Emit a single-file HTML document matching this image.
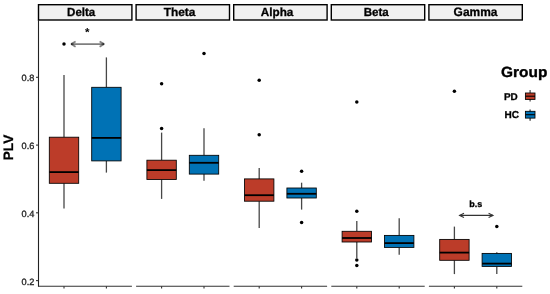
<!DOCTYPE html><html><head><meta charset="utf-8"><style>html,body{margin:0;padding:0;background:#fff;overflow:hidden;width:550px;height:294px;}svg{display:block;}text{font-family:"Liberation Sans",Arial,sans-serif;text-rendering:geometricPrecision;}</style></head><body>
<svg width="550" height="294" viewBox="0 0 550 294">
<rect width="550" height="294" fill="#fff"/>
<rect x="38.5" y="4.7" width="93.4" height="15.3" fill="#F1F1F1" stroke="#000" stroke-width="1.4"/>
<text x="81.2" y="16.4" text-anchor="middle" font-size="11.8" font-weight="bold" stroke="#000" stroke-width="0.3" textLength="28.2" lengthAdjust="spacingAndGlyphs">Delta</text>
<line x1="38.5" y1="286.2" x2="131.9" y2="286.2" stroke="#333" stroke-width="1.1"/>
<line x1="64" y1="286.2" x2="64" y2="288.6" stroke="#333" stroke-width="1.1"/>
<line x1="106.4" y1="286.2" x2="106.4" y2="288.6" stroke="#333" stroke-width="1.1"/>
<line x1="64" y1="74.9" x2="64" y2="137.2" stroke="#474747" stroke-width="1.3"/>
<line x1="64" y1="183.3" x2="64" y2="208.6" stroke="#474747" stroke-width="1.3"/>
<rect x="49.3" y="137.2" width="29.4" height="46.1" fill="#BC3C29" stroke="#000" stroke-width="0.85"/>
<line x1="49.3" y1="172.1" x2="78.7" y2="172.1" stroke="#000" stroke-width="1.8"/>
<circle cx="64" cy="43.9" r="1.75" fill="#000"/>
<line x1="106.4" y1="57.4" x2="106.4" y2="87.3" stroke="#474747" stroke-width="1.3"/>
<line x1="106.4" y1="160.9" x2="106.4" y2="172.6" stroke="#474747" stroke-width="1.3"/>
<rect x="91.7" y="87.3" width="29.4" height="73.6" fill="#0072B5" stroke="#000" stroke-width="0.85"/>
<line x1="91.7" y1="137.9" x2="121.1" y2="137.9" stroke="#000" stroke-width="1.8"/>
<rect x="136.1" y="4.7" width="93.4" height="15.3" fill="#F1F1F1" stroke="#000" stroke-width="1.4"/>
<text x="179.55" y="16.4" text-anchor="middle" font-size="11.8" font-weight="bold" stroke="#000" stroke-width="0.3" textLength="31.7" lengthAdjust="spacingAndGlyphs">Theta</text>
<line x1="136.1" y1="286.2" x2="229.5" y2="286.2" stroke="#333" stroke-width="1.1"/>
<line x1="161.6" y1="286.2" x2="161.6" y2="288.6" stroke="#333" stroke-width="1.1"/>
<line x1="204" y1="286.2" x2="204" y2="288.6" stroke="#333" stroke-width="1.1"/>
<line x1="161.6" y1="132.6" x2="161.6" y2="160.2" stroke="#474747" stroke-width="1.3"/>
<line x1="161.6" y1="179.5" x2="161.6" y2="198.9" stroke="#474747" stroke-width="1.3"/>
<rect x="146.9" y="160.2" width="29.4" height="19.3" fill="#BC3C29" stroke="#000" stroke-width="0.85"/>
<line x1="146.9" y1="170.1" x2="176.3" y2="170.1" stroke="#000" stroke-width="1.8"/>
<circle cx="161.6" cy="83.8" r="1.75" fill="#000"/>
<circle cx="161.6" cy="128.4" r="1.75" fill="#000"/>
<line x1="204" y1="128.3" x2="204" y2="155.3" stroke="#474747" stroke-width="1.3"/>
<line x1="204" y1="174.1" x2="204" y2="180.8" stroke="#474747" stroke-width="1.3"/>
<rect x="189.3" y="155.3" width="29.4" height="18.8" fill="#0072B5" stroke="#000" stroke-width="0.85"/>
<line x1="189.3" y1="162.8" x2="218.7" y2="162.8" stroke="#000" stroke-width="1.8"/>
<circle cx="204" cy="53.5" r="1.75" fill="#000"/>
<rect x="233.7" y="4.7" width="93.4" height="15.3" fill="#F1F1F1" stroke="#000" stroke-width="1.4"/>
<text x="277.1" y="16.3" text-anchor="middle" font-size="11.8" font-weight="bold" stroke="#000" stroke-width="0.3" textLength="32.6" lengthAdjust="spacingAndGlyphs">Alpha</text>
<line x1="233.7" y1="286.2" x2="327.1" y2="286.2" stroke="#333" stroke-width="1.1"/>
<line x1="259.2" y1="286.2" x2="259.2" y2="288.6" stroke="#333" stroke-width="1.1"/>
<line x1="301.6" y1="286.2" x2="301.6" y2="288.6" stroke="#333" stroke-width="1.1"/>
<line x1="259.2" y1="168" x2="259.2" y2="178.9" stroke="#474747" stroke-width="1.3"/>
<line x1="259.2" y1="201.2" x2="259.2" y2="227.9" stroke="#474747" stroke-width="1.3"/>
<rect x="244.5" y="178.9" width="29.4" height="22.3" fill="#BC3C29" stroke="#000" stroke-width="0.85"/>
<line x1="244.5" y1="195.2" x2="273.9" y2="195.2" stroke="#000" stroke-width="1.8"/>
<circle cx="259.2" cy="80.2" r="1.75" fill="#000"/>
<circle cx="259.2" cy="134.8" r="1.75" fill="#000"/>
<line x1="301.6" y1="182.7" x2="301.6" y2="188" stroke="#474747" stroke-width="1.3"/>
<line x1="301.6" y1="198" x2="301.6" y2="209.6" stroke="#474747" stroke-width="1.3"/>
<rect x="286.9" y="188" width="29.4" height="10" fill="#0072B5" stroke="#000" stroke-width="0.85"/>
<line x1="286.9" y1="193.8" x2="316.3" y2="193.8" stroke="#000" stroke-width="1.8"/>
<circle cx="301.6" cy="171.2" r="1.75" fill="#000"/>
<circle cx="301.6" cy="222.6" r="1.75" fill="#000"/>
<rect x="331.3" y="4.7" width="93.4" height="15.3" fill="#F1F1F1" stroke="#000" stroke-width="1.4"/>
<text x="376.2" y="16.3" text-anchor="middle" font-size="11.8" font-weight="bold" stroke="#000" stroke-width="0.3" textLength="25" lengthAdjust="spacingAndGlyphs">Beta</text>
<line x1="331.3" y1="286.2" x2="424.7" y2="286.2" stroke="#333" stroke-width="1.1"/>
<line x1="356.8" y1="286.2" x2="356.8" y2="288.6" stroke="#333" stroke-width="1.1"/>
<line x1="399.2" y1="286.2" x2="399.2" y2="288.6" stroke="#333" stroke-width="1.1"/>
<line x1="356.8" y1="221" x2="356.8" y2="231.3" stroke="#474747" stroke-width="1.3"/>
<line x1="356.8" y1="242" x2="356.8" y2="257.9" stroke="#474747" stroke-width="1.3"/>
<rect x="342.1" y="231.3" width="29.4" height="10.7" fill="#BC3C29" stroke="#000" stroke-width="0.85"/>
<line x1="342.1" y1="238" x2="371.5" y2="238" stroke="#000" stroke-width="1.8"/>
<circle cx="356.8" cy="102" r="1.75" fill="#000"/>
<circle cx="356.8" cy="211.2" r="1.75" fill="#000"/>
<circle cx="356.8" cy="260.1" r="1.75" fill="#000"/>
<circle cx="356.8" cy="265.6" r="1.75" fill="#000"/>
<line x1="399.2" y1="218.3" x2="399.2" y2="235.4" stroke="#474747" stroke-width="1.3"/>
<line x1="399.2" y1="247.4" x2="399.2" y2="254.7" stroke="#474747" stroke-width="1.3"/>
<rect x="384.5" y="235.4" width="29.4" height="12" fill="#0072B5" stroke="#000" stroke-width="0.85"/>
<line x1="384.5" y1="243.1" x2="413.9" y2="243.1" stroke="#000" stroke-width="1.8"/>
<rect x="428.9" y="4.7" width="93.4" height="15.3" fill="#F1F1F1" stroke="#000" stroke-width="1.4"/>
<text x="475.5" y="15.9" text-anchor="middle" font-size="12.3" font-weight="bold" stroke="#000" stroke-width="0.3" textLength="43.8" lengthAdjust="spacingAndGlyphs">Gamma</text>
<line x1="428.9" y1="286.2" x2="522.3" y2="286.2" stroke="#333" stroke-width="1.1"/>
<line x1="454.4" y1="286.2" x2="454.4" y2="288.6" stroke="#333" stroke-width="1.1"/>
<line x1="496.8" y1="286.2" x2="496.8" y2="288.6" stroke="#333" stroke-width="1.1"/>
<line x1="454.4" y1="226.6" x2="454.4" y2="239.4" stroke="#474747" stroke-width="1.3"/>
<line x1="454.4" y1="260.3" x2="454.4" y2="274.1" stroke="#474747" stroke-width="1.3"/>
<rect x="439.7" y="239.4" width="29.4" height="20.9" fill="#BC3C29" stroke="#000" stroke-width="0.85"/>
<line x1="439.7" y1="252.6" x2="469.1" y2="252.6" stroke="#000" stroke-width="1.8"/>
<circle cx="454.4" cy="91.2" r="1.75" fill="#000"/>
<line x1="496.8" y1="252.2" x2="496.8" y2="253.4" stroke="#474747" stroke-width="1.3"/>
<line x1="496.8" y1="266.4" x2="496.8" y2="274" stroke="#474747" stroke-width="1.3"/>
<rect x="482.1" y="253.4" width="29.4" height="13" fill="#0072B5" stroke="#000" stroke-width="0.85"/>
<line x1="482.1" y1="263.6" x2="511.5" y2="263.6" stroke="#000" stroke-width="1.8"/>
<circle cx="496.8" cy="226.5" r="1.75" fill="#000"/>
<line x1="38.5" y1="20" x2="38.5" y2="286.7" stroke="#222" stroke-width="1.1"/>
<line x1="36" y1="77.3" x2="38.5" y2="77.3" stroke="#333" stroke-width="1.1"/>
<text x="34.3" y="81.3" text-anchor="end" font-size="9.2" fill="#222" stroke="#222" stroke-width="0.3">0.8</text>
<line x1="36" y1="145.1" x2="38.5" y2="145.1" stroke="#333" stroke-width="1.1"/>
<text x="34.3" y="149.1" text-anchor="end" font-size="9.2" fill="#222" stroke="#222" stroke-width="0.3">0.6</text>
<line x1="36" y1="212.8" x2="38.5" y2="212.8" stroke="#333" stroke-width="1.1"/>
<text x="34.3" y="216.8" text-anchor="end" font-size="9.2" fill="#222" stroke="#222" stroke-width="0.3">0.4</text>
<line x1="36" y1="280.6" x2="38.5" y2="280.6" stroke="#333" stroke-width="1.1"/>
<text x="34.3" y="284.6" text-anchor="end" font-size="9.2" fill="#222" stroke="#222" stroke-width="0.3">0.2</text>
<text transform="translate(13.1,147.5) rotate(-90)" text-anchor="middle" font-size="13.6" font-weight="bold" stroke="#000" stroke-width="0.3">PLV</text>
<text x="87.3" y="35.9" text-anchor="middle" font-size="11.5" font-weight="bold">*</text>
<line x1="71" y1="44.1" x2="104.2" y2="44.1" stroke="#000" stroke-opacity="0.5" stroke-width="1.7" stroke-linecap="butt"/>
<line x1="71" y1="44.1" x2="75.6" y2="41.5" stroke="#000" stroke-opacity="0.5" stroke-width="1.7" stroke-linecap="butt"/>
<line x1="71" y1="44.1" x2="75.6" y2="46.7" stroke="#000" stroke-opacity="0.5" stroke-width="1.7" stroke-linecap="butt"/>
<line x1="104.2" y1="44.1" x2="99.6" y2="41.5" stroke="#000" stroke-opacity="0.5" stroke-width="1.7" stroke-linecap="butt"/>
<line x1="104.2" y1="44.1" x2="99.6" y2="46.7" stroke="#000" stroke-opacity="0.5" stroke-width="1.7" stroke-linecap="butt"/>
<text x="475.7" y="207" text-anchor="middle" font-size="9" font-weight="bold" stroke="#000" stroke-width="0.3">b.s</text>
<line x1="459.6" y1="215.4" x2="493" y2="215.4" stroke="#333" stroke-width="1.1"/>
<path d="M464 213.2 L459.6 215.4 L464 217.6" fill="none" stroke="#333" stroke-width="1.1"/>
<path d="M488.6 213.2 L493 215.4 L488.6 217.6" fill="none" stroke="#333" stroke-width="1.1"/>
<text x="501.1" y="76.5" font-size="14.7" font-weight="bold" stroke="#000" stroke-width="0.35" textLength="46.3" lengthAdjust="spacingAndGlyphs">Group</text>
<text x="504" y="100.4" font-size="10" font-weight="bold" stroke="#000" stroke-width="0.3" textLength="13.8" lengthAdjust="spacingAndGlyphs">PD</text>
<text x="504.4" y="118.4" font-size="10" font-weight="bold" stroke="#000" stroke-width="0.3" textLength="14.5" lengthAdjust="spacingAndGlyphs">HC</text>
<line x1="530.1" y1="90.1" x2="530.1" y2="101.6" stroke="#474747" stroke-width="1.2"/>
<rect x="525.4" y="93" width="9.6" height="6.4" fill="#BC3C29" stroke="#000" stroke-width="0.85"/>
<line x1="525.4" y1="96.2" x2="535" y2="96.2" stroke="#000" stroke-width="1.1"/>
<line x1="530.1" y1="109.4" x2="530.1" y2="120.7" stroke="#333" stroke-width="1.2"/>
<rect x="525.4" y="111.3" width="9.6" height="6.8" fill="#0072B5" stroke="#000" stroke-width="0.85"/>
<line x1="525.4" y1="114.7" x2="535" y2="114.7" stroke="#000" stroke-width="1.1"/>
</svg></body></html>
